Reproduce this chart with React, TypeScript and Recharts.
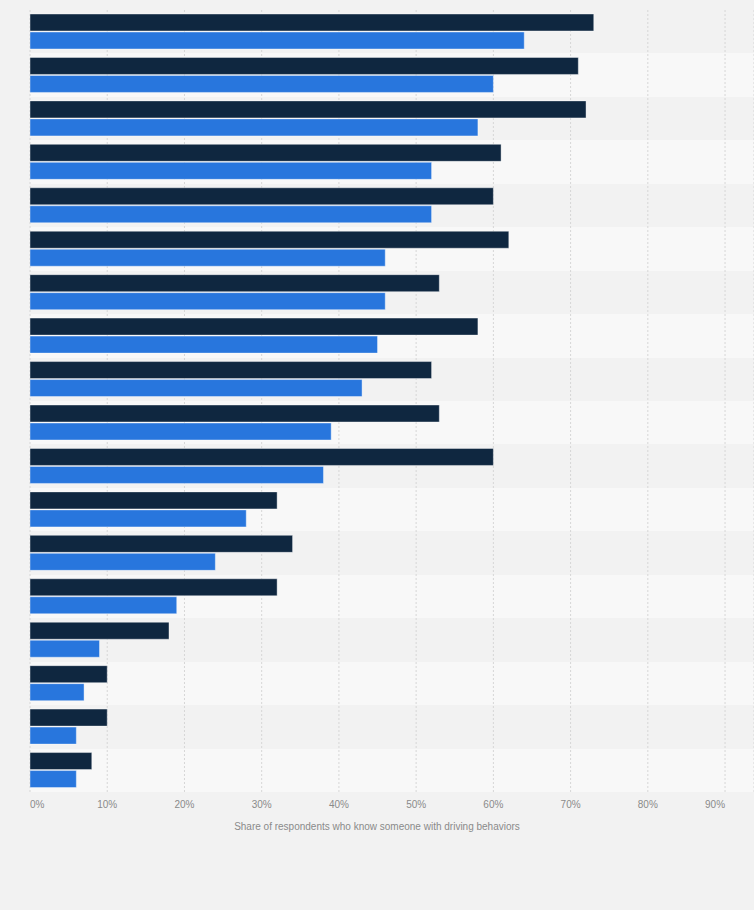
import React from 'react';
import { BarChart, Bar, XAxis, YAxis, CartesianGrid } from 'recharts';

const categories = [
  'Behavior 1', 'Behavior 2', 'Behavior 3', 'Behavior 4', 'Behavior 5', 'Behavior 6',
  'Behavior 7', 'Behavior 8', 'Behavior 9', 'Behavior 10', 'Behavior 11', 'Behavior 12',
  'Behavior 13', 'Behavior 14', 'Behavior 15', 'Behavior 16', 'Behavior 17', 'Behavior 18',
];
const seriesA = [73, 71, 72, 61, 60, 62, 53, 58, 52, 53, 60, 32, 34, 32, 18, 10, 10, 8];
const seriesB = [64, 60, 58, 52, 52, 46, 46, 45, 43, 39, 38, 28, 24, 19, 9, 7, 6, 6];
const xTicks = [0, 10, 20, 30, 40, 50, 60, 70, 80, 90];
const axisTitle = 'Share of respondents who know someone with driving behaviors';

const data = categories.map((name, i) => ({ name, a: seriesA[i], b: seriesB[i] }));

const FONT = '"Liberation Sans", Arial, sans-serif';

const XTick = (props: any) => {
  const { x, y, payload } = props;
  const v = payload.value;
  const anchor = v === 0 ? 'start' : v === 90 ? 'end' : 'middle';
  return (
    <text x={x} y={y} dy={8} textAnchor={anchor} fill="#8a8a8a" fontSize={10} fontFamily={FONT}>
      {`${v}%`}
    </text>
  );
};

// row boundaries derived from the category axis band scale
const bandBoundaries = (args: any) => {
  const { yAxis, offset } = args || {};
  const top = offset?.top ?? 0;
  const h = offset?.height ?? 0;
  const s = yAxis?.scale;
  if (s && typeof s === 'function' && typeof s.bandwidth === 'function') {
    const pts = categories.map((c) => s(c));
    pts.push(s(categories[categories.length - 1]) + s.bandwidth());
    if (pts.every((p: any) => typeof p === 'number' && !isNaN(p))) return pts;
  }
  const n = categories.length;
  return Array.from({ length: n + 1 }, (_, i) => top + (i * h) / n);
};

export default function App() {
  return (
    <div style={{ width: 754, height: 910, background: '#f2f2f2', position: 'relative' }}>
      <style>{'body{margin:0}'}</style>
      <BarChart
        width={754}
        height={910}
        data={data}
        layout="vertical"
        margin={{ top: 10, right: 0, left: 30, bottom: 78 }}
        barSize={17}
        barGap={1}
      >
        <CartesianGrid
          yAxisId="cat"
          horizontal={true}
          vertical={false}
          stroke="none"
          horizontalCoordinatesGenerator={bandBoundaries}
          horizontalFill={['#f2f2f2', '#f8f8f8']}
        />
        <CartesianGrid
          yAxisId="cat"
          horizontal={false}
          vertical={true}
          stroke="#d6d6d6"
          strokeDasharray="2 2"
        />
        <XAxis
          type="number"
          domain={[0, 93.75]}
          ticks={xTicks}
          allowDataOverflow
          axisLine={false}
          tickLine={false}
          tick={<XTick />}
          height={40}
          interval={0}
          label={{ value: axisTitle, position: 'insideBottom', offset: 2, dx: -15, fill: '#8a8a8a', fontSize: 10, fontFamily: FONT }}
        />
        <YAxis
          yAxisId="cat"
          type="category"
          dataKey="name"
          width={0}
          tick={false}
          tickLine={false}
          axisLine={{ stroke: '#555555' }}
        />
        <Bar yAxisId="cat" dataKey="a" fill="#0f2740" stroke="#ffffff" strokeOpacity={0.4} strokeWidth={1} isAnimationActive={false} />
        <Bar yAxisId="cat" dataKey="b" fill="#2876dd" stroke="#ffffff" strokeOpacity={0.4} strokeWidth={1} isAnimationActive={false} />
      </BarChart>
    </div>
  );
}
